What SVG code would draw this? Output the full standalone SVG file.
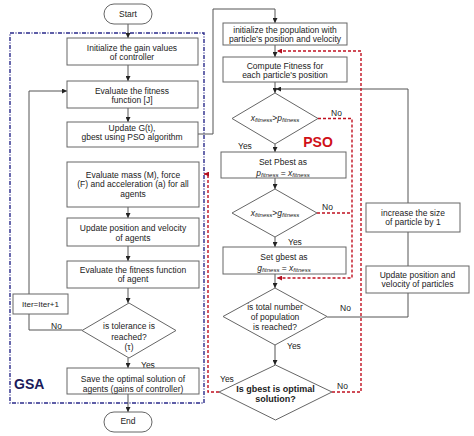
<svg xmlns="http://www.w3.org/2000/svg" width="474" height="436" viewBox="0 0 474 436">
<defs>
<marker id="ab" markerWidth="5" markerHeight="5" refX="5" refY="2.5" orient="auto" markerUnits="userSpaceOnUse"><path d="M0,0 L5,2.5 L0,5 Z" fill="#222"/></marker>
<marker id="ar" markerWidth="5" markerHeight="5" refX="5" refY="2.5" orient="auto" markerUnits="userSpaceOnUse"><path d="M0,0 L5,2.5 L0,5 Z" fill="#b01020"/></marker>
<style>
.bx{fill:#fff;stroke:#666;stroke-width:1}
.t{font-family:"Liberation Sans",Arial,sans-serif;font-size:8.5px;fill:#222;text-anchor:middle}
.tb{font-family:"Liberation Sans",Arial,sans-serif;font-size:9px;font-weight:bold;fill:#222;text-anchor:middle}
.l{font-family:"Liberation Sans",Arial,sans-serif;font-size:8.5px;fill:#222}
.k{fill:none;stroke:#555;stroke-width:1}
.r{fill:none;stroke:#c01020;stroke-width:1.4;stroke-dasharray:3,2}
.s{font-size:6px}
</style>
</defs>
<rect x="10" y="33" width="194" height="370" fill="none" stroke="#2a2a8a" stroke-width="1.4" stroke-dasharray="4,1.5,1,1.5"/>
<text x="14" y="389" font-family="'Liberation Sans',Arial,sans-serif" font-size="14" font-weight="bold" fill="#1a1a5a">GSA</text>
<text x="318" y="147" font-family="'Liberation Sans',Arial,sans-serif" font-size="14" font-weight="bold" fill="#d01018" text-anchor="middle">PSO</text>
<g id="connectors">
<path class="k" d="M128,24 V38" marker-end="url(#ab)"/>
<path class="k" d="M128,65 V81" marker-end="url(#ab)"/>
<path class="k" d="M128,108 V122" marker-end="url(#ab)"/>
<path class="k" d="M128,207 V218" marker-end="url(#ab)"/>
<path class="k" d="M128,246 V261" marker-end="url(#ab)"/>
<path class="k" d="M128,288 V303" marker-end="url(#ab)"/>
<path class="k" d="M128,358 V368" marker-end="url(#ab)"/>
<path class="k" d="M128,394 V412" marker-end="url(#ab)"/>
<path class="k" d="M82,330 H29 V314"/>
<path class="k" d="M29,294 V91 H67" marker-end="url(#ab)"/>
<path class="k" d="M198,134 H213 V9 H275 V23" marker-end="url(#ab)"/>
<path class="k" d="M275,45 V57" marker-end="url(#ab)"/>
<path class="k" d="M275,82 V93" marker-end="url(#ab)"/>
<path class="k" d="M275,144 V152" marker-end="url(#ab)"/>
<path class="k" d="M275,178 V189" marker-end="url(#ab)"/>
<path class="k" d="M275,237 V247" marker-end="url(#ab)"/>
<path class="k" d="M275,274 V288" marker-end="url(#ab)"/>
<path class="k" d="M275,345 V365" marker-end="url(#ab)"/>
<path class="k" d="M327,317 H408 V293"/>
<path class="k" d="M408,266 V232"/>
<path class="k" d="M408,203 V89 H276" marker-end="url(#ab)"/>
<path class="r" d="M318,118.5 H352 V278 H277" marker-end="url(#ar)"/>
<path class="r" d="M317,213 H352"/>
<path class="r" d="M332,392 H361 V51 H277" marker-end="url(#ar)"/>
<path class="r" d="M219,392 H208 V174 H204" marker-end="url(#ar)"/>
<text class="l" x="51" y="329">No</text>
<text class="l" x="141" y="368">Yes</text>
<text class="l" x="238" y="149">Yes</text>
<text class="l" x="331" y="116">No</text>
<text class="l" x="322" y="210">No</text>
<text class="l" x="288" y="245">Yes</text>
<text class="l" x="340" y="311">No</text>
<text class="l" x="287" y="349">Yes</text>
<text class="l" x="220" y="382">Yes</text>
<text class="l" x="337" y="389">No</text>
</g>
<g id="start"><rect class="bx" x="104" y="4" width="48" height="20" rx="10"/><text class="t" x="128" y="17">Start</text></g>
<g id="init-gain"><rect class="bx" x="67" y="38" width="131" height="27"/><text class="t" x="132" y="51">Initialize the gain values</text><text class="t" x="132" y="60">of controller</text></g>
<g id="eval-fitness"><rect class="bx" x="67" y="81" width="131" height="27"/><text class="t" x="132" y="94">Evaluate the fitness</text><text class="t" x="132" y="103">function [J]</text></g>
<g id="update-g"><rect class="bx" x="67" y="122" width="131" height="25"/><text class="t" x="132" y="131">Update G(t),</text><text class="t" x="132" y="140">gbest using PSO algorithm</text></g>
<g id="eval-mass"><rect class="bx" x="67" y="162" width="132" height="45"/><text class="t" x="133" y="178">Evaluate mass (M), force</text><text class="t" x="133" y="187">(F) and acceleration (a) for all</text><text class="t" x="133" y="197">agents</text></g>
<g id="update-agents"><rect class="bx" x="67" y="218" width="132" height="28"/><text class="t" x="133" y="231">Update position and velocity</text><text class="t" x="133" y="241">of agents</text></g>
<g id="eval-agent"><rect class="bx" x="67" y="261" width="132" height="27"/><text class="t" x="133" y="273">Evaluate the fitness function</text><text class="t" x="133" y="282">of agent</text></g>
<g id="iter"><rect class="bx" x="13" y="294" width="55" height="20"/><text class="t" x="40.5" y="307" style="font-size:8px">Iter=Iter+1</text></g>
<g id="tolerance"><polygon class="bx" points="129,303 176,330.5 129,358 82,330.5"/><text class="t" x="129" y="329">is tolerance is</text><text class="t" x="129" y="340">reached?</text><text class="t" x="129" y="350">(τ)</text></g>
<g id="save"><rect class="bx" x="67" y="368" width="132" height="26"/><text class="t" x="133" y="382">Save the optimal solution of</text><text class="t" x="133" y="392">agents (gains of controller)</text></g>
<g id="end"><rect class="bx" x="104" y="412" width="48" height="20" rx="10"/><text class="t" x="128" y="424">End</text></g>
<g id="pso-init"><rect class="bx" x="223" y="23" width="124" height="22"/><text class="t" x="285" y="33">initialize the population with</text><text class="t" x="285" y="42">particle's position and velocity</text></g>
<g id="pso-fitness"><rect class="bx" x="223" y="57" width="124" height="25"/><text class="t" x="285" y="68.5">Compute Fitness for</text><text class="t" x="285" y="77.5">each particle's position</text></g>
<g id="cmp-p"><polygon class="bx" points="275,93 318,118.5 275,144 232,118.5"/><text class="t" x="275" y="121" font-style="italic">x<tspan class="s" dy="1">fitness</tspan><tspan dy="-1" font-style="normal">&gt;</tspan>p<tspan class="s" dy="1">fitness</tspan></text></g>
<g id="pbest"><rect class="bx" x="221" y="152" width="125" height="26"/><text class="t" x="283" y="165">Set Pbest as</text><text class="t" x="283" y="175.5" font-style="italic">p<tspan class="s" dy="1">fitness</tspan><tspan dy="-1" font-style="normal"> = </tspan>x<tspan class="s" dy="1">fitness</tspan></text></g>
<g id="cmp-g"><polygon class="bx" points="275,189 317,213 275,237 232,213"/><text class="t" x="275" y="216" font-style="italic">x<tspan class="s" dy="1">fitness</tspan><tspan dy="-1" font-style="normal">&gt;</tspan>g<tspan class="s" dy="1">fitness</tspan></text></g>
<g id="gbest"><rect class="bx" x="223" y="247" width="123" height="27"/><text class="t" x="284" y="260">Set gbest as</text><text class="t" x="284" y="270.5" font-style="italic">g<tspan class="s" dy="1">fitness</tspan><tspan dy="-1" font-style="normal"> = </tspan>x<tspan class="s" dy="1">fitness</tspan></text></g>
<g id="total"><polygon class="bx" points="275,288 327,316.5 275,345 223,316.5"/><text class="t" x="275" y="310">is total number</text><text class="t" x="275" y="320">of population</text><text class="t" x="275" y="330">is reached?</text></g>
<g id="optimal"><polygon class="bx" points="275.5,365 332,392 275.5,420 219,392"/><text class="tb" x="275.5" y="392">Is gbest is optimal</text><text class="tb" x="275.5" y="402">solution?</text></g>
<g id="increase"><rect class="bx" x="366" y="203" width="94" height="29"/><text class="t" x="413" y="216">increase the size</text><text class="t" x="413" y="225">of particle by 1</text></g>
<g id="update-particles"><rect class="bx" x="366" y="266" width="103" height="27"/><text class="t" x="417.5" y="278">Update position and</text><text class="t" x="417.5" y="287">velocity of particles</text></g>
</svg>
